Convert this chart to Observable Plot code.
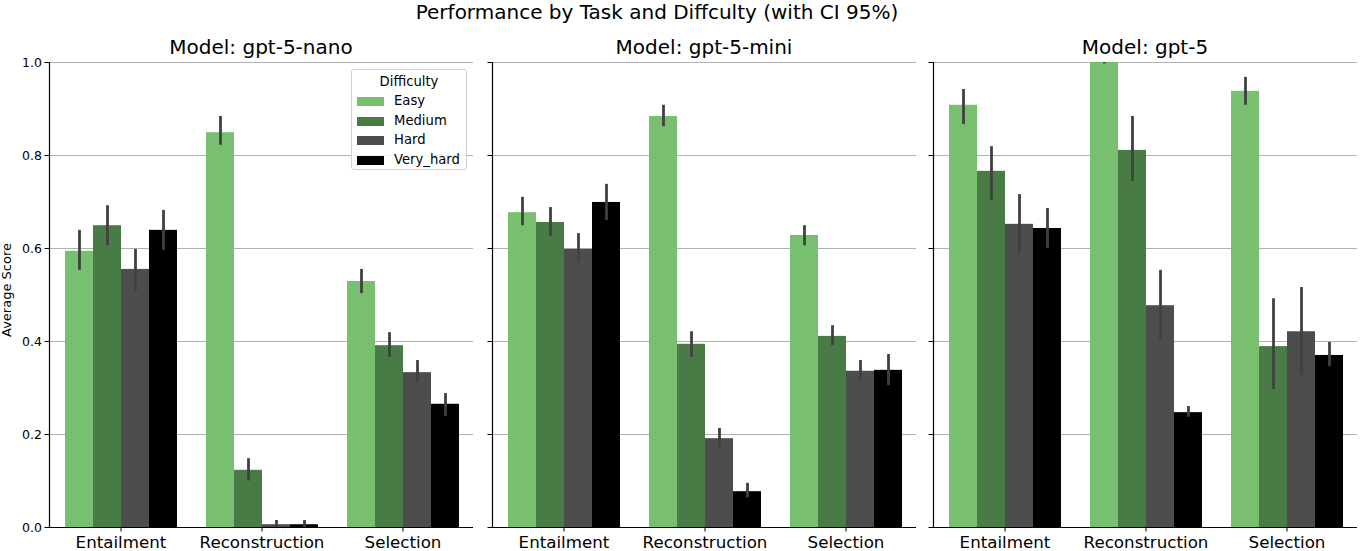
<!DOCTYPE html>
<html><head><meta charset="utf-8">
<script src="https://cdn.jsdelivr.net/npm/d3@7"></script>
<script src="https://cdn.jsdelivr.net/npm/@observablehq/plot@0.6"></script>
<style>
body{margin:0;background:#fff;font-family:"DejaVu Sans",sans-serif;}
#root{position:relative;width:1361px;height:551px;overflow:hidden;background:#fff}
.title{position:absolute;left:357px;width:600px;top:0px;text-align:center;font-size:20px;color:#000;white-space:nowrap}
.ptitle{position:absolute;top:35px;text-align:center;font-size:20px;color:#000;white-space:nowrap}
.ylabel{position:absolute;left:-40px;top:282px;width:94px;text-align:center;font-size:13px;line-height:16px;transform:rotate(-90deg);white-space:nowrap}
.legend{position:absolute;left:351px;top:69px;width:116px;height:101px;border:1px solid #d0d0d0;border-radius:3px;background:rgba(255,255,255,0.8);font-size:13.2px;box-sizing:border-box}
.legend .lt{text-align:center;margin-top:2px;height:19px;line-height:19px}
.legend .row{height:19.5px;line-height:19.5px;position:relative}
.legend .sw{position:absolute;left:5px;top:6px;width:27px;height:9px}
.legend .lab{position:absolute;left:42px}
</style></head><body><div id="root"></div>
<script>
const models = ["gpt-5-nano", "gpt-5-mini", "gpt-5"];
const tasks = ["Entailment", "Reconstruction", "Selection"];
const difficulties = ["Easy", "Medium", "Hard", "Very_hard"];
const difficultyColors = ["#78bf6f", "#497c44", "#4d4d4d", "#000000"];
const yTicks = [0, 0.2, 0.4, 0.6, 0.8, 1.0];

// Scores, order: task (Entailment, Reconstruction, Selection) x difficulty (Easy, Medium, Hard, Very_hard)
const nanoScore = [0.594, 0.649, 0.555, 0.639,  0.849, 0.123, 0.006, 0.006,  0.529, 0.391, 0.333, 0.265];
const nanoLow   = [0.553, 0.606, 0.508, 0.596,  0.822, 0.100, 0.000, 0.000,  0.503, 0.366, 0.310, 0.239];
const nanoHigh  = [0.639, 0.692, 0.598, 0.682,  0.884, 0.148, 0.015, 0.015,  0.555, 0.419, 0.359, 0.288];

const miniScore = [0.677, 0.656, 0.598, 0.699,  0.884, 0.394, 0.191, 0.077,  0.628, 0.411, 0.336, 0.338];
const miniLow   = [0.649, 0.626, 0.568, 0.660,  0.862, 0.366, 0.172, 0.064,  0.606, 0.391, 0.316, 0.305];
const miniHigh  = [0.710, 0.688, 0.632, 0.738,  0.908, 0.421, 0.213, 0.095,  0.649, 0.434, 0.359, 0.372];

const fullScore = [0.908, 0.766, 0.652, 0.643,  1.000, 0.811, 0.477, 0.247,  0.938, 0.389, 0.421, 0.370];
const fullLow   = [0.867, 0.703, 0.589, 0.600,  0.997, 0.744, 0.404, 0.237,  0.908, 0.297, 0.327, 0.346];
const fullHigh  = [0.942, 0.819, 0.716, 0.686,  1.000, 0.884, 0.553, 0.260,  0.968, 0.492, 0.516, 0.398];

const series = [
  [nanoScore, nanoLow, nanoHigh],
  [miniScore, miniLow, miniHigh],
  [fullScore, fullLow, fullHigh]
];

function rowsFor(mi) {
  const [s, lo, hi] = series[mi];
  const rows = [];
  tasks.forEach((t, ti) => difficulties.forEach((d, di) => {
    const k = ti * 4 + di;
    rows.push({model: models[mi], task: t, difficulty: d, score: s[k], low: lo[k], high: hi[k]});
  }));
  return rows;
}

const root = document.getElementById("root");
const title = document.createElement("div");
title.className = "title";
title.textContent = "Performance by Task and Diffculty (with CI 95%)";
root.appendChild(title);

const frameLefts = [49, 492, 933];
const frameW = 424;
const frameH = 465;
const mt = 10, mb = 24;

function place(svg, left) {
  svg.style.position = "absolute";
  svg.style.left = left + "px";
  svg.style.top = "52px";
  root.appendChild(svg);
}

models.forEach((m, mi) => {
  const first = mi === 0;
  const ml = first ? 49 : 10;
  const mr = 5;
  const rows = rowsFor(mi);
  const common = {
    width: ml + frameW + mr,
    height: mt + frameH + mb,
    marginLeft: ml, marginRight: mr, marginTop: mt, marginBottom: mb,
    style: {fontFamily: "DejaVu Sans", background: "transparent", overflow: "visible", color: "#000"},
    y: {domain: [0, 1], axis: null}
  };
  // layer 1: grid + y axis
  const under = Plot.plot({
    ...common,
    marks: [
      Plot.ruleY(yTicks.slice(1), {stroke: "#b0b0b0", strokeWidth: 1}),
      Plot.axisY({ticks: yTicks, tickSize: 4.5, tickPadding: 3, fontSize: 12.5, label: null,
        tickFormat: first ? d3.format(".1f") : () => ""})
    ]
  });
  place(under, frameLefts[mi] - ml);
  // layer 2: bars + error bars + task axis
  const chart = Plot.plot({
    ...common,
    fx: {domain: tasks, paddingInner: 0.2, paddingOuter: 0.1, label: null},
    x: {domain: difficulties, padding: 0, axis: null},
    color: {domain: difficulties, range: difficultyColors},
    marks: [
      Plot.barY(rows, {fx: "task", x: "difficulty", y: "score", fill: "difficulty"}),
      Plot.ruleX(rows, {fx: "task", x: "difficulty", y1: "low", y2: "high", stroke: "#404040", strokeWidth: 2.8}),
      Plot.axisFx({anchor: "bottom", tickSize: 4.5, tickPadding: 4.5, fontSize: 16.7, label: null})
    ]
  });
  place(chart, frameLefts[mi] - ml);
  // layer 3: spines
  const spines = Plot.plot({
    ...common,
    marks: [
      Plot.ruleY([0], {stroke: "#000", strokeWidth: 1.2}),
      Plot.frame({anchor: "left", stroke: "#000", strokeWidth: 1.2})
    ]
  });
  place(spines, frameLefts[mi] - ml);

  const pt = document.createElement("div");
  pt.className = "ptitle";
  pt.style.left = frameLefts[mi] + "px";
  pt.style.width = frameW + "px";
  pt.textContent = "Model: " + m;
  root.appendChild(pt);
});

const yl = document.createElement("div");
yl.className = "ylabel";
yl.textContent = "Average Score";
root.appendChild(yl);

const lg = document.createElement("div");
lg.className = "legend";
const lt = document.createElement("div");
lt.className = "lt";
lt.textContent = "Difficulty";
lg.appendChild(lt);
difficulties.forEach((d, i) => {
  const r = document.createElement("div");
  r.className = "row";
  const sw = document.createElement("div");
  sw.className = "sw";
  sw.style.background = difficultyColors[i];
  const lab = document.createElement("div");
  lab.className = "lab";
  lab.textContent = d;
  r.appendChild(sw); r.appendChild(lab);
  lg.appendChild(r);
});
root.appendChild(lg);
</script>
</body></html>
